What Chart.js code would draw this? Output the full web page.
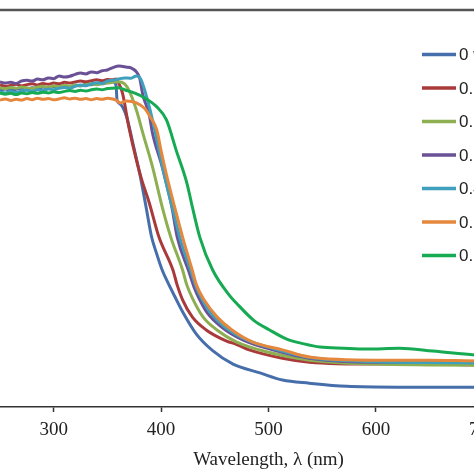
<!DOCTYPE html>
<html>
<head>
<meta charset="utf-8">
<script src="https://cdn.jsdelivr.net/npm/chart.js@4.4.1/dist/chart.umd.min.js"></script>
<style>
  html, body { margin: 0; padding: 0; background: #fff; overflow: hidden; width: 474px; height: 474px; }
  #wrap { position: absolute; left: 0; top: 0; }
</style>
</head>
<body>
<div id="wrap"><canvas id="chart" width="560" height="474"></canvas></div>
<script>
// series labels (text cut off at the right edge in the reference)
const seriesLabels = ['0 wt%', '0.1 wt%', '0.2 wt%', '0.3 wt%', '0.4 wt%', '0.5 wt%', '0.6 wt%'];
const seriesColors = ['#466eaa', '#aa3a3a', '#8daf52', '#6a5196', '#3ea0bd', '#e5883d', '#16aa52'];
const xTicks = [300, 400, 500, 600, 700];

// plateau part shares one wavelength grid
const plateauNm = [250,255,260,265,270,275,280,285,290,295,300,305,310,315,320,325,330,335,340,345,350,355];

// absorbance (a.u.): plateau values, then edge/tail points
const pl0 = [0.798,0.801,0.797,0.800,0.803,0.799,0.804,0.802,0.806,0.803,0.807,0.805,0.809,0.807,0.811,0.809,0.813,0.812,0.815,0.814,0.818,0.820];
const nm0 = [358,359,362,368,373,380,386,391,396,401,406,413,420,433,448,467,492,513,538,573,620,660,700,750];
const ab0 = [0.811,0.773,0.763,0.730,0.673,0.589,0.504,0.430,0.385,0.345,0.315,0.277,0.240,0.183,0.142,0.108,0.086,0.068,0.060,0.052,0.050,0.050,0.050,0.050];

const pl1 = [0.811,0.808,0.810,0.813,0.809,0.812,0.814,0.811,0.815,0.813,0.816,0.814,0.818,0.816,0.819,0.821,0.819,0.822,0.824,0.822,0.825,0.824];
const nm1 = [358,360,364,370,377,382,389,398,411,415,420,429,442,461,470,482,513,538,600,650,700,750];
const ab1 = [0.826,0.819,0.791,0.705,0.622,0.572,0.514,0.428,0.345,0.307,0.270,0.227,0.194,0.166,0.158,0.144,0.123,0.113,0.108,0.108,0.106,0.106];

const pl2 = [0.804,0.802,0.805,0.803,0.806,0.804,0.802,0.806,0.808,0.805,0.809,0.807,0.810,0.808,0.811,0.809,0.812,0.814,0.812,0.815,0.816,0.818];
const nm2 = [360,366,370,377,383,392,401,409,420,424,429,439,452,470,498,538,600,650,700,750];
const ab2 = [0.819,0.814,0.798,0.748,0.690,0.605,0.504,0.428,0.345,0.307,0.275,0.227,0.194,0.164,0.139,0.118,0.108,0.106,0.105,0.105];

const pl3 = [0.819,0.816,0.818,0.815,0.821,0.823,0.821,0.826,0.824,0.829,0.827,0.834,0.831,0.833,0.838,0.841,0.839,0.844,0.842,0.847,0.849,0.855];
const nm3 = [361,368,372,377,380,383,389,392,401,410,415,426,431,436,443,456,476,504,538,600,650,700,750];
const ab3 = [0.859,0.856,0.854,0.844,0.829,0.786,0.736,0.690,0.605,0.504,0.428,0.340,0.300,0.270,0.237,0.202,0.169,0.144,0.123,0.113,0.113,0.112,0.112];

const pl4 = [0.793,0.791,0.795,0.792,0.796,0.798,0.795,0.799,0.797,0.801,0.799,0.803,0.805,0.803,0.808,0.811,0.809,0.814,0.817,0.815,0.821,0.823];
const nm4 = [360,366,372,377,381,386,392,398,404,411,418,428,433,438,446,459,478,506,540,600,650,700,750];
const ab4 = [0.826,0.829,0.828,0.834,0.826,0.786,0.723,0.647,0.572,0.496,0.421,0.340,0.300,0.272,0.237,0.202,0.171,0.146,0.124,0.114,0.112,0.111,0.111];

const pl5 = [0.773,0.776,0.772,0.775,0.773,0.777,0.774,0.778,0.775,0.777,0.774,0.776,0.779,0.776,0.778,0.775,0.777,0.774,0.777,0.775,0.778,0.776];
const nm5 = [358,362,368,377,385,390,396,400,405,412,420,429,433,440,452,466,485,513,538,600,650,700,750];
const ab5 = [0.773,0.766,0.771,0.766,0.751,0.730,0.698,0.645,0.585,0.510,0.428,0.345,0.307,0.270,0.227,0.194,0.164,0.144,0.126,0.118,0.118,0.116,0.116];

const pl6 = [0.791,0.788,0.790,0.787,0.791,0.789,0.792,0.790,0.793,0.791,0.794,0.792,0.795,0.797,0.795,0.798,0.796,0.799,0.801,0.799,0.802,0.803];
const nm6 = [360,367,373,383,396,405,414,424,429,436,448,464,470,486,501,517,533,548,570,591,622,653,692,720,750];
const ab6 = [0.804,0.798,0.793,0.781,0.756,0.723,0.647,0.564,0.505,0.428,0.345,0.280,0.262,0.219,0.194,0.171,0.159,0.151,0.148,0.146,0.148,0.141,0.131,0.126,0.123];

const plateaus = [pl0, pl1, pl2, pl3, pl4, pl5, pl6];
const edgeNm = [nm0, nm1, nm2, nm3, nm4, nm5, nm6];
const edgeAb = [ab0, ab1, ab2, ab3, ab4, ab5, ab6];

const serif = '"Liberation Serif", "Times New Roman", serif';
const sans = '"Liberation Sans", Arial, sans-serif';

// top frame line of the plot area
const frameTop = {
    id: 'frameTop',
    afterDraw(chart) {
        const ctx = chart.ctx;
        ctx.save();
        ctx.strokeStyle = '#555';
        ctx.lineWidth = 2.5;
        ctx.beginPath();
        ctx.moveTo(0, chart.chartArea.top);
        ctx.lineTo(chart.width, chart.chartArea.top);
        ctx.stroke();
        ctx.restore();
    }
};

// legend drawn inside the plot area, like the original
const innerLegend = {
    id: 'innerLegend',
    afterDraw(chart) {
        const ctx = chart.ctx;
        ctx.save();
        ctx.font = '17px ' + sans;
        ctx.textBaseline = 'middle';
        chart.data.datasets.forEach((ds, i) => {
            const y = 54.5 + i * 33.5;
            ctx.strokeStyle = ds.borderColor;
            ctx.lineWidth = 3.5;
            ctx.beginPath();
            ctx.moveTo(422, y);
            ctx.lineTo(456, y);
            ctx.stroke();
            ctx.fillStyle = '#222';
            ctx.fillText(ds.label, 459, y + 1);
        });
        ctx.restore();
    }
};

const datasets = seriesLabels.map((label, i) => {
    const pts = plateauNm.map((x, j) => ({ x: x, y: plateaus[i][j] }))
        .concat(edgeNm[i].map((x, j) => ({ x: x, y: edgeAb[i][j] })));
    return {
        label: label,
        data: pts,
        borderColor: seriesColors[i],
        borderWidth: 3,
        pointRadius: 0,
        cubicInterpolationMode: 'monotone',
        fill: false,
        order: seriesLabels.length - i  // later series drawn on top
    };
});

new Chart(document.getElementById('chart'), {
    type: 'line',
    data: { datasets: datasets },
    options: {
        responsive: false,
        animation: false,
        layout: { padding: { top: 10, left: 0, right: 23, bottom: 0 } },
        plugins: { legend: { display: false }, tooltip: { enabled: false } },
        scales: {
            x: {
                type: 'linear',
                min: 250,
                max: 750,
                afterBuildTicks: (s) => { s.ticks = xTicks.map(v => ({ value: v })); },
                afterFit: (s) => { s.height = 67; },
                grid: { drawOnChartArea: false, drawTicks: true, tickLength: 5, tickColor: '#333', tickWidth: 1.5 },
                border: { display: true, color: '#333', width: 1.5 },
                ticks: { autoSkip: false, maxRotation: 0, padding: 7, color: '#222', font: { family: serif, size: 19 } },
                title: {
                    display: true,
                    text: 'Wavelength, λ (nm)',
                    color: '#222',
                    font: { family: serif, size: 19 },
                    padding: { top: 0, bottom: 3 }
                }
            },
            y: { display: false, min: 0, max: 1 }
        }
    },
    plugins: [frameTop, innerLegend]
});
</script>
</body>
</html>
